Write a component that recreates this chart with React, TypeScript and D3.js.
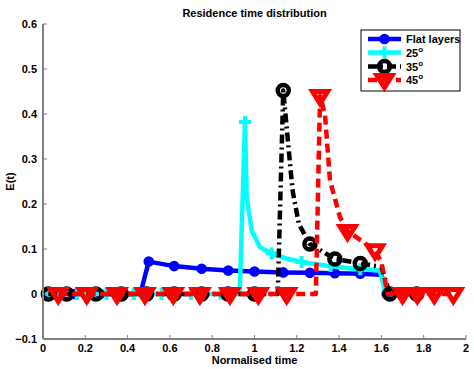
import React from "react";
import * as d3 from "d3";

const W = 474;
const H = 369;

const xTicks = [0, 0.2, 0.4, 0.6, 0.8, 1, 1.2, 1.4, 1.6, 1.8, 2];
const yTicks = [-0.1, 0, 0.1, 0.2, 0.3, 0.4, 0.5, 0.6];

// Flat layers
const flatX = [0.03, 0.15, 0.27, 0.38, 0.46, 0.5, 0.62, 0.75, 0.876, 1.0, 1.136, 1.262, 1.38, 1.5, 1.6, 1.625, 1.76];
const flatY = [0, 0, 0, 0, 0, 0.072, 0.062, 0.056, 0.052, 0.05, 0.048, 0.047, 0.046, 0.045, 0.043, 0, 0];
const flatMX = [0.03, 0.15, 0.27, 0.38, 0.5, 0.62, 0.75, 0.876, 1.0, 1.136, 1.262, 1.38, 1.5, 1.625, 1.76];
const flatMY = [0, 0, 0, 0, 0.072, 0.062, 0.056, 0.052, 0.05, 0.048, 0.047, 0.046, 0.045, 0, 0];

// 25 deg
const d25X = [0.03, 0.16, 0.3, 0.43, 0.56, 0.7, 0.84, 0.93, 0.955, 0.963, 0.987, 1.026, 1.081, 1.15, 1.223, 1.341, 1.467, 1.593, 1.62, 1.77];
const d25Y = [0, 0, 0, 0, 0, 0, 0, 0, 0.382, 0.215, 0.141, 0.104, 0.09, 0.079, 0.071, 0.063, 0.056, 0.052, 0, 0];
const d25MX = [0.03, 0.16, 0.3, 0.43, 0.56, 0.7, 0.84, 0.955, 1.081, 1.223, 1.36, 1.5, 1.77];
const d25MY = [0, 0, 0, 0, 0, 0, 0, 0.382, 0.09, 0.071, 0.062, 0.055, 0];

// 35 deg
const d35X = [0.025, 0.112, 0.25, 0.37, 0.49, 0.62, 0.75, 0.875, 1.0, 1.11, 1.136, 1.16, 1.18, 1.21, 1.262, 1.38, 1.5, 1.6, 1.64, 1.767];
const d35Y = [0, 0, 0, 0, 0, 0, 0, 0, 0, 0, 0.452, 0.33, 0.23, 0.155, 0.111, 0.078, 0.068, 0.06, 0, 0];
const d35MX = [0.025, 0.112, 0.25, 0.37, 0.49, 0.62, 0.75, 0.875, 1.0, 1.136, 1.262, 1.38, 1.5, 1.64, 1.767];
const d35MY = [0, 0, 0, 0, 0, 0, 0, 0, 0, 0.452, 0.111, 0.078, 0.068, 0, 0];

// 45 deg
const d45X = [0.072, 0.207, 0.35, 0.482, 0.616, 0.742, 0.884, 1.018, 1.152, 1.29, 1.31, 1.333, 1.357, 1.404, 1.44, 1.57, 1.6, 1.63, 1.7, 1.77, 1.85, 1.94];
const d45Y = [0, 0, 0, 0, 0, 0, 0, 0, 0, 0, 0.44, 0.4, 0.252, 0.171, 0.14, 0.097, 0.07, 0, 0, 0, 0, 0];
const d45MX = [0.072, 0.207, 0.35, 0.482, 0.616, 0.742, 0.884, 1.018, 1.152, 1.31, 1.44, 1.57, 1.7, 1.77, 1.85, 1.94];
const d45MY = [0, 0, 0, 0, 0, 0, 0, 0, 0, 0.44, 0.14, 0.097, 0, 0, 0, 0];

const legendLabels = ["Flat layers", "25", "35", "45"];

const x = d3.scaleLinear().domain([0, 2]).range([43, 466]);
const y = d3.scaleLinear().domain([-0.1, 0.6]).range([339, 24]);

const lineGen = d3.line<[number, number]>().x((d) => x(d[0])).y((d) => y(d[1]));
const zip = (a: number[], b: number[]) => a.map((v, i) => [v, b[i]] as [number, number]);

const FONT = "'Liberation Sans', Arial, Helvetica, sans-serif";

type Kind = "circle" | "bigcircle" | "plus" | "tri";

function Marker({ kind, cx, cy, color }: { kind: Kind; cx: number; cy: number; color: string }) {
  if (kind === "circle") return <circle cx={cx} cy={cy} r={3.8} fill={color} stroke={color} strokeWidth={3} />;
  if (kind === "bigcircle") return <circle cx={cx} cy={cy} r={5.5} fill="none" stroke={color} strokeWidth={4.5} />;
  if (kind === "plus")
    return (
      <path d={`M${cx - 6},${cy}H${cx + 6}M${cx},${cy - 6}V${cy + 6}`} stroke={color} strokeWidth={4} fill="none" />
    );
  const s = 7.5;
  return (
    <path
      d={`M${cx - s},${cy - s * 0.6}L${cx + s},${cy - s * 0.6}L${cx},${cy + s * 1.0}Z`}
      fill="none"
      stroke={color}
      strokeWidth={5}
      strokeLinejoin="miter"
    />
  );
}

const series = [
  { lx: flatX, ly: flatY, mx: flatMX, my: flatMY, color: "#0000ff", dash: undefined as string | undefined, kind: "circle" as Kind },
  { lx: d25X, ly: d25Y, mx: d25MX, my: d25MY, color: "#00ffff", dash: undefined, kind: "plus" as Kind },
  { lx: d35X, ly: d35Y, mx: d35MX, my: d35MY, color: "#000000", dash: "9,4,2,4", kind: "bigcircle" as Kind },
  { lx: d45X, ly: d45Y, mx: d45MX, my: d45MY, color: "#ff0000", dash: "9,5", kind: "tri" as Kind },
];

export default function App() {
  const legY = [39, 52.5, 66.5, 80];
  return (
    <svg width={W} height={H} style={{ position: "absolute", left: 0, top: 0, background: "#fff" }} fontFamily={FONT}>
      <rect x={0} y={0} width={W} height={H} fill="#fff" />
      {/* series */}
      {series.map((s, i) => (
        <g key={i}>
          <path d={lineGen(zip(s.lx, s.ly)) || ""} fill="none" stroke={s.color} strokeWidth={4.5} strokeDasharray={s.dash} strokeLinejoin="round" />
          {s.mx.map((mx, j) => (
            <Marker key={j} kind={s.kind} cx={x(mx)} cy={y(s.my[j])} color={s.color} />
          ))}
        </g>
      ))}
      {/* axes */}
      <line x1={43} x2={43} y1={24} y2={339} stroke="#808080" strokeWidth={2} />
      <line x1={43} x2={466} y1={339} y2={339} stroke="#808080" strokeWidth={2} />
      {yTicks.map((t) => (
        <g key={"y" + t}>
          <line x1={43} x2={47} y1={y(t)} y2={y(t)} stroke="#808080" strokeWidth={1} />
          <text x={37} y={y(t) + 4} textAnchor="end" fontSize={11} fontWeight="bold">
            {t === 0 ? "0" : t < 0 ? "\u22120.1" : d3.format(".1f")(t)}
          </text>
        </g>
      ))}
      {xTicks.map((t) => (
        <g key={"x" + t}>
          <line x1={x(t)} x2={x(t)} y1={339} y2={335} stroke="#808080" strokeWidth={1} />
          <text x={x(t)} y={352} textAnchor="middle" fontSize={11} fontWeight="bold">
            {t === 0 || t === 1 || t === 2 ? String(t) : d3.format(".1f")(t)}
          </text>
        </g>
      ))}
      <text x={254.5} y={17} textAnchor="middle" fontSize={11} fontWeight="bold">
        Residence time distribution
      </text>
      <text x={254.5} y={364} textAnchor="middle" fontSize={11} fontWeight="bold">
        Normalised time
      </text>
      <text transform={`translate(14,181.5) rotate(-90)`} textAnchor="middle" fontSize={11} fontWeight="bold">
        E(t)
      </text>
      {/* legend */}
      <rect x={361} y={30} width={99} height={61} fill="#fff" stroke="#000" strokeWidth={1} />
      {series.map((s, i) => (
        <g key={"l" + i}>
          <line x1={368} x2={401} y1={legY[i]} y2={legY[i]} stroke={s.color} strokeWidth={4.5} strokeDasharray={s.dash} />
          <Marker kind={s.kind} cx={384.5} cy={legY[i]} color={s.color} />
          <text x={406} y={legY[i] + 4} fontSize={11} fontWeight="bold">
            {legendLabels[i]}
            {i > 0 ? (
              <tspan dy={-5} fontSize={8}>
                o
              </tspan>
            ) : null}
          </text>
        </g>
      ))}
    </svg>
  );
}
